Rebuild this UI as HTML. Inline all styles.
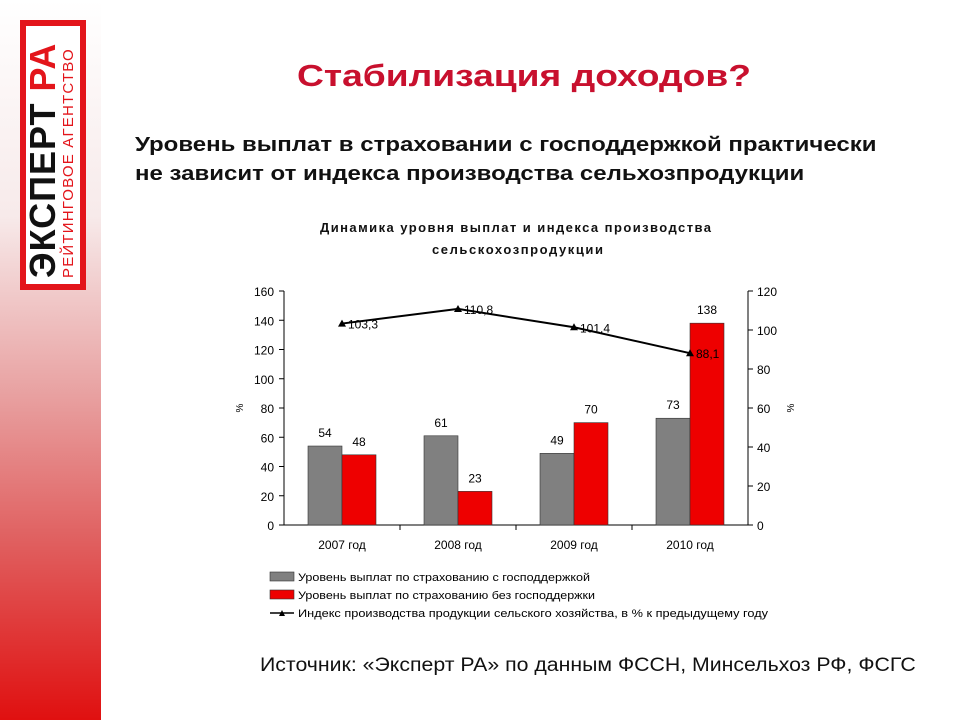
<!DOCTYPE html>
<html><head><meta charset="utf-8"><style>
body{margin:0;width:960px;height:720px;background:#fff;position:relative;overflow:hidden;font-family:"Liberation Sans",sans-serif}
#strip{position:absolute;left:0;top:0;width:101px;height:720px;background:linear-gradient(#fff 0%,#f7eaea 30%,#e8a0a0 55%,#e06060 75%,#e01010 100%)}
#logo{position:absolute;left:20px;top:20px;width:66px;height:270px;background:#e3151b}
#logo .inner{position:absolute;left:6px;top:6px;width:54px;height:258px;background:#fff}
.vt{position:absolute;transform:rotate(-90deg);transform-origin:left top;white-space:nowrap}
.sx{transform-origin:left top;white-space:nowrap}
</style></head><body>
<div id="strip"></div>
<div id="logo"><div class="inner"></div>
<div class="vt" style="left:6px;top:258px;width:250px;font:bold 36px 'Liberation Sans',sans-serif;color:#111;letter-spacing:1px;line-height:34px">ЭКСПЕРТ <span style="color:#e3151b">РА</span></div>
<div class="vt" style="left:40px;top:258px;font:15px 'Liberation Sans',sans-serif;color:#e3151b;letter-spacing:1.2px;line-height:18px">РЕЙТИНГОВОЕ АГЕНТСТВО</div>
</div>
<div class="sx" style="position:absolute;left:297px;top:58px;font:bold 31px 'Liberation Sans',sans-serif;color:#c8102e;transform:scaleX(1.2)">Стабилизация доходов?</div>
<div class="sx" style="position:absolute;left:135px;top:131px;font:bold 20px/29px 'Liberation Sans',sans-serif;color:#111;transform:scaleX(1.2)">Уровень выплат в страховании с господдержкой практически<br>не зависит от индекса производства сельхозпродукции</div>
<div class="sx" style="position:absolute;left:260px;top:655px;font:19px 'Liberation Sans',sans-serif;color:#111;transform:scaleX(1.12)">Источник: «Эксперт РА» по данным ФССН, Минсельхоз РФ, ФСГС</div>
<svg id="chart" width="960" height="720" style="position:absolute;left:0;top:0" font-family="Liberation Sans, sans-serif"></svg>
<script>
const categories=["2007 год","2008 год","2009 год","2010 год"];
const withSupport=[54,61,49,73];
const withoutSupport=[48,23,70,138];
const prodIndex=[103.3,110.8,101.4,88.1];
const prodLabels=["103,3","110,8","101,4","88,1"];
const leftTicks=[0,20,40,60,80,100,120,140,160];
const rightTicks=[0,20,40,60,80,100,120];
const NS="http://www.w3.org/2000/svg";
const svg=document.getElementById('chart');
const X0=284,X1=748,Y0=525,Y1=291;
const cw=(X1-X0)/categories.length,bw=34;
const yL=v=>Y0-(v/160)*(Y0-Y1);
const yR=v=>Y0-(v/120)*(Y0-Y1);
const cx=i=>X0+cw*(i+0.5);
function el(t,a,txt){const e=document.createElementNS(NS,t);for(const k in a)e.setAttribute(k,a[k]);if(txt!=null)e.textContent=txt;svg.appendChild(e);return e;}
let e;
e=el('text',{x:320,y:232,'font-size':13,'font-weight':'bold',fill:'#111',textLength:391,lengthAdjust:'spacing'},'Динамика уровня выплат и индекса производства');

e=el('text',{x:432,y:254,'font-size':13,'font-weight':'bold',fill:'#111',textLength:171,lengthAdjust:'spacing'},'сельскохозпродукции');

e=el('line',{x1:X0,y1:Y1,x2:X0,y2:Y0,stroke:'#000'});
e=el('line',{x1:X1,y1:Y1,x2:X1,y2:Y0,stroke:'#000'});
e=el('line',{x1:X0,y1:Y0,x2:X1,y2:Y0,stroke:'#000'});
leftTicks.forEach(v=>{el('line',{x1:X0-5,y1:yL(v),x2:X0,y2:yL(v),stroke:'#000'});
e=el('text',{x:X0-10,y:yL(v)+5,'text-anchor':'end','font-size':12,fill:'#000'},v);
});
rightTicks.forEach(v=>{el('line',{x1:X1,y1:yR(v),x2:X1+5,y2:yR(v),stroke:'#000'});
e=el('text',{x:X1+9,y:yR(v)+5,'font-size':12,fill:'#000'},v);
});
for(let i=1;i<categories.length;i++)el('line',{x1:X0+cw*i,y1:Y0,x2:X0+cw*i,y2:Y0+5,stroke:'#000'});
e=el('text',{x:243,y:408,'font-size':10,fill:'#000',transform:'rotate(-90 243 408)','text-anchor':'middle'},'%');
e=el('text',{x:794,y:408,'font-size':10,fill:'#000',transform:'rotate(-90 794 408)','text-anchor':'middle'},'%');
categories.forEach((c,i)=>{
 e=el('text',{x:cx(i),y:Y0+24,'text-anchor':'middle','font-size':12,fill:'#000'},c);
 e=el('rect',{x:cx(i)-bw,y:yL(withSupport[i]),width:bw,height:Y0-yL(withSupport[i]),fill:'#808080',stroke:'#333','stroke-width':0.6});
 
 e=el('rect',{x:cx(i),y:yL(withoutSupport[i]),width:bw,height:Y0-yL(withoutSupport[i]),fill:'#ee0000',stroke:'#333','stroke-width':0.6});
 
 e=el('text',{x:cx(i)-bw/2,y:yL(withSupport[i])-9,'text-anchor':'middle','font-size':12,fill:'#000'},withSupport[i]);
 e=el('text',{x:cx(i)+bw/2,y:yL(withoutSupport[i])-9,'text-anchor':'middle','font-size':12,fill:'#000'},withoutSupport[i]);
});
e=el('polyline',{points:prodIndex.map((v,i)=>cx(i)+','+yR(v)).join(' '),fill:'none',stroke:'#000','stroke-width':2});

prodIndex.forEach((v,i)=>{const x=cx(i),y=yR(v);
 e=el('polygon',{points:`${x-4},${y+3} ${x+4},${y+3} ${x},${y-4}`,fill:'#000'});
 e=el('text',{x:x+6,y:y+5,'font-size':12,fill:'#000'},prodLabels[i]);});
const leg=[['#808080','rect','Уровень выплат по страхованию с господдержкой',292],['#ee0000','rect','Уровень выплат по страхованию без господдержки',297],['#000','line','Индекс производства продукции сельского хозяйства, в % к предыдущему году',470]];
leg.forEach((l,i)=>{const y=577+i*18;
 if(l[1]=='rect'){e=el('rect',{x:270,y:y-5,width:24,height:9,fill:l[0],stroke:'#333','stroke-width':0.6});}
 else{e=el('line',{x1:270,y1:y,x2:294,y2:y,stroke:'#000','stroke-width':1.5});el('polygon',{points:`279,${y+3} 285,${y+3} 282,${y-3}`,fill:'#000'});}
 
 e=el('text',{x:298,y:y+4,'font-size':11,fill:'#000',textLength:l[3],lengthAdjust:'spacingAndGlyphs'},l[2]);});
</script>
</body></html>
